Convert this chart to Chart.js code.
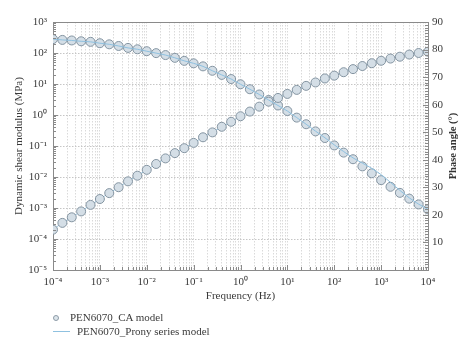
<!DOCTYPE html>
<html>
<head>
<meta charset="utf-8">
<script src="https://cdn.jsdelivr.net/npm/chart.js@4.4.1/dist/chart.umd.min.js"></script>
<style>
  html, body { margin: 0; padding: 0; background: #fff; }
  #wrap { position: relative; width: 474px; height: 353px; }
  #legend { position: absolute; left: 0; top: 0; width: 474px; height: 353px; pointer-events: none;
            font-family: 'Liberation Serif', 'Times New Roman', serif; font-size: 11px; color: #3a3a3a; }
  .lg-text { position: absolute; line-height: 12px; white-space: nowrap; }
  .lg-dot { position: absolute; width: 4px; height: 4px; border-radius: 50%; border: 1px solid #8c9aa6; background: #dde6ec; }
  .lg-line { position: absolute; height: 0; border-top: 1px solid #8fc1e0; }
</style>
</head>
<body>
<div id="wrap">
  <canvas id="c"></canvas>
  <div id="legend">
    <div class="lg-dot" style="left:53px; top:315px;"></div>
    <div class="lg-text" style="left:70px; top:311px;">PEN6070_CA model</div>
    <div class="lg-line" style="left:53px; top:331px; width:17px;"></div>
    <div class="lg-text" style="left:77px; top:325px;">PEN6070_Prony series model</div>
  </div>
</div>
<script>
// Frequency (Hz)
const frequency = [
  1e-4, 1.585e-4, 2.512e-4, 3.981e-4, 6.310e-4,
  1e-3, 1.585e-3, 2.512e-3, 3.981e-3, 6.310e-3,
  1e-2, 1.585e-2, 2.512e-2, 3.981e-2, 6.310e-2,
  1e-1, 1.585e-1, 2.512e-1, 3.981e-1, 6.310e-1,
  1, 1.585, 2.512, 3.981, 6.310,
  10, 15.85, 25.12, 39.81, 63.10,
  100, 158.5, 251.2, 398.1, 631.0,
  1000, 1585, 2512, 3981, 6310,
  10000
];
// Dynamic shear modulus (MPa), CA model
const caModulus = [
  2.00e-4, 3.31e-4, 5.01e-4, 7.76e-4, 1.26e-3,
  1.95e-3, 3.02e-3, 4.68e-3, 7.24e-3, 0.0110,
  0.0170, 0.0263, 0.0398, 0.0589, 0.0851,
  0.126, 0.191, 0.275, 0.417, 0.603,
  0.912, 1.29, 1.86, 2.69, 3.55,
  4.79, 6.46, 8.71, 11.2, 15.1,
  18.6, 24.0, 30.2, 38.0, 46.8,
  56.2, 66.1, 75.9, 89.1, 100,
  110
];
// Phase angle (deg), CA model
const caPhase = [
  83.8, 83.5, 83.3, 83.0, 82.8,
  82.3, 81.9, 81.3, 80.6, 80.1,
  79.4, 78.7, 78.0, 77.0, 75.9,
  75.0, 73.9, 72.3, 70.8, 69.3,
  67.4, 65.6, 63.7, 61.7, 59.7,
  57.7, 55.3, 52.9, 50.3, 47.9,
  45.2, 42.6, 40.2, 37.6, 35.1,
  32.6, 30.2, 28.0, 25.9, 23.8,
  22.0
];
// Prony series model
const pronyModulus = [
  2.00e-4, 3.31e-4, 5.01e-4, 7.80e-4, 1.25e-3,
  1.95e-3, 3.02e-3, 4.68e-3, 7.24e-3, 0.0111,
  0.0170, 0.0263, 0.0398, 0.0590, 0.0855,
  0.126, 0.190, 0.277, 0.415, 0.603,
  0.905, 1.29, 1.86, 2.65, 3.58,
  4.79, 6.46, 8.60, 11.3, 14.9,
  18.8, 24.0, 30.0, 38.0, 46.5,
  56.0, 66.0, 76.5, 88.5, 100,
  110
];
const pronyPhase = [
  83.8, 83.5, 83.3, 83.0, 82.8,
  82.3, 81.9, 81.3, 80.6, 80.1,
  79.4, 78.7, 78.0, 77.0, 75.9,
  75.0, 73.9, 72.3, 70.8, 69.3,
  67.4, 65.6, 63.7, 61.7, 59.7,
  57.7, 55.3, 52.9, 50.4, 48.0,
  45.4, 43.0, 40.7, 38.8, 36.9,
  34.6, 31.8, 28.9, 26.2, 23.9,
  22.0
];
const xMin = 1e-4, xMax = 1e4;
const yMin = 1e-5, yMax = 1e3;
const phaseMin = 0, phaseMax = 90;

const SUP = {'-':'⁻','0':'⁰','1':'¹','2':'²','3':'³','4':'⁴','5':'⁵','6':'⁶','7':'⁷','8':'⁸','9':'⁹'};
function powLabel(v) {
  const e = Math.round(Math.log10(v));
  if (Math.abs(v - Math.pow(10, e)) / v > 1e-6) return '';
  return '10' + String(e).split('').map(ch => SUP[ch]).join('');
}
const FONT = "'Liberation Serif', 'Times New Roman', serif";
const TXT = '#3a3a3a';
const AX = '#8a8a8a';

const pts = (ys) => frequency.map((f, i) => ({x: f, y: ys[i]}));

const decoPlugin = {
  id: 'deco',
  afterDraw(chart) {
    const {ctx, chartArea: a, scales} = chart;
    ctx.save();
    ctx.strokeStyle = AX;
    ctx.lineWidth = 1;
    ctx.beginPath();
    ctx.moveTo(a.left, Math.round(a.top) + 0.5);
    ctx.lineTo(a.right, Math.round(a.top) + 0.5);
    // bottom inward ticks
    scales.x.ticks.forEach(t => {
      const px = Math.round(scales.x.getPixelForValue(t.value)) + 0.5;
      const len = powLabel(t.value) ? 5 : 3;
      ctx.moveTo(px, a.bottom);
      ctx.lineTo(px, a.bottom - len);
    });
    // left inward minor ticks
    for (let e = Math.round(Math.log10(yMin)); e < Math.round(Math.log10(yMax)); e++) {
      for (let m = 1; m <= 9; m++) {
        const py = Math.round(scales.y.getPixelForValue(m * Math.pow(10, e))) + 0.5;
        const len = m === 1 ? 5 : 3;
        ctx.moveTo(a.left, py);
        ctx.lineTo(a.left + len, py);
      }
    }
    // right inward ticks
    for (let v = phaseMin; v <= phaseMax; v++) {
      const py = Math.round(scales.y1.getPixelForValue(v)) + 0.5;
      const len = v % 10 === 0 ? 5 : 3;
      ctx.moveTo(a.right, py);
      ctx.lineTo(a.right - len, py);
    }
    ctx.stroke();
    // right axis title
    ctx.fillStyle = '#333';
    ctx.font = "bold 10.5px " + FONT;
    ctx.textAlign = 'center';
    ctx.textBaseline = 'middle';
    ctx.translate(453, (a.top + a.bottom) / 2);
    ctx.rotate(-Math.PI / 2);
    ctx.fillText('Phase angle (°)', 0, 0);
    ctx.restore();
  }
};

new Chart(document.getElementById('c'), {
  type: 'scatter',
  data: {
    datasets: [
      { label: 'PEN6070_CA model', data: pts(caModulus), yAxisID: 'y', showLine: false,
        pointRadius: 4.5, pointBackgroundColor: 'rgba(212,222,230,1)', pointBorderColor: '#8494a1', pointBorderWidth: 1, order: 1 },
      { label: 'PEN6070_CA model (phase)', data: pts(caPhase), yAxisID: 'y1', showLine: false,
        pointRadius: 4.5, pointBackgroundColor: 'rgba(212,222,230,1)', pointBorderColor: '#8494a1', pointBorderWidth: 1, order: 1 },
      { label: 'PEN6070_Prony series model', data: pts(pronyModulus), yAxisID: 'y', showLine: true,
        pointRadius: 0, borderColor: '#8fc1e0', borderWidth: 1, tension: 0.3, order: 2 },
      { label: 'PEN6070_Prony series model (phase)', data: pts(pronyPhase), yAxisID: 'y1', showLine: true,
        pointRadius: 0, borderColor: '#8fc1e0', borderWidth: 1, tension: 0.3, order: 0 }
    ]
  },
  options: {
    responsive: true,
    maintainAspectRatio: false,
    animation: false,
    layout: { padding: { top: 22, left: 0, right: 0, bottom: 48 } },
    plugins: { legend: { display: false }, tooltip: { enabled: false } },
    scales: {
      x: {
        type: 'logarithmic', position: 'bottom', min: xMin, max: xMax,
        afterBuildTicks(axis) {
          const t = [];
          for (let e = Math.round(Math.log10(xMin)); e < Math.round(Math.log10(xMax)); e++) {
            for (let m = 1; m <= 9; m++) t.push({ value: m * Math.pow(10, e) });
          }
          t.push({ value: xMax });
          axis.ticks = t;
        },
        afterFit(s) { s.height = 35; },
        grid: { color: '#dadada', lineWidth: 1, drawTicks: false },
        border: { display: true, color: AX, width: 1, dash: [1.5, 1.5] },
        ticks: { autoSkip: false, maxRotation: 0, padding: 6, color: TXT,
                 font: { family: FONT, size: 11 }, callback: (v) => powLabel(v) },
        title: { display: true, text: 'Frequency (Hz)', color: TXT, font: { family: FONT, size: 11 },
                 padding: { top: 0, bottom: 2 } }
      },
      y: {
        type: 'logarithmic', position: 'left', min: yMin, max: yMax,
        afterBuildTicks(axis) {
          const t = [];
          for (let e = Math.round(Math.log10(yMin)); e <= Math.round(Math.log10(yMax)); e++) t.push({ value: Math.pow(10, e) });
          axis.ticks = t;
        },
        afterFit(s) { s.width = 53; },
        grid: { color: '#c6c6c6', lineWidth: 1, drawTicks: false },
        border: { display: true, color: AX, width: 1, dash: [1.5, 1.5] },
        ticks: { autoSkip: false, padding: 6, color: TXT, font: { family: FONT, size: 11 },
                 callback: (v) => powLabel(v) },
        title: { display: true, text: 'Dynamic shear modulus (MPa)', color: TXT,
                 font: { family: FONT, size: 11 }, padding: { top: 13, bottom: 0 } }
      },
      y1: {
        type: 'linear', position: 'right', min: phaseMin, max: phaseMax,
        afterFit(s) { s.width = 46; },
        grid: { drawOnChartArea: false, drawTicks: false },
        border: { display: true, color: AX, width: 1 },
        ticks: { stepSize: 10, padding: 4, color: TXT, font: { family: FONT, size: 11 },
                 callback: (v) => v === 0 ? '' : String(v) }
      }
    }
  },
  plugins: [decoPlugin]
});
</script>
</body>
</html>
